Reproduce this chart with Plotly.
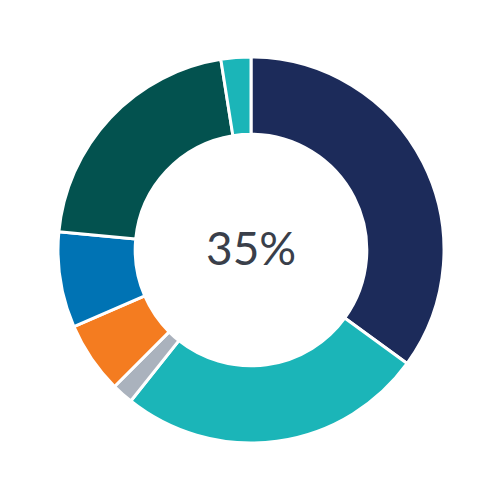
import plotly.graph_objects as go

labels = ["A", "B", "C", "D", "E", "F", "G"]
values = [35, 25.7, 1.8, 6, 8, 21, 2.5]
colors = ["#1c2b5a", "#1bb5b8", "#aab2bd", "#f47c20", "#0073b4", "#03524f", "#1bb5b8"]
center_text = "35%"

fig = go.Figure(go.Pie(
    labels=labels,
    values=values,
    hole=0.6,
    sort=False,
    direction="clockwise",
    rotation=0,
    marker=dict(colors=colors, line=dict(color="white", width=3)),
    textinfo="none",
    hoverinfo="label+percent",
    showlegend=False,
))
fig.add_annotation(text=center_text, x=0.5, y=0.5, xref="paper", yref="paper", yshift=3,
                   showarrow=False, font=dict(family="Lato", size=46, color="#3a3f4a"))
fig.update_layout(width=500, height=500, margin=dict(l=50, r=64, t=49, b=65),
                  paper_bgcolor="white", plot_bgcolor="white")
fig.write_html("out.html")
